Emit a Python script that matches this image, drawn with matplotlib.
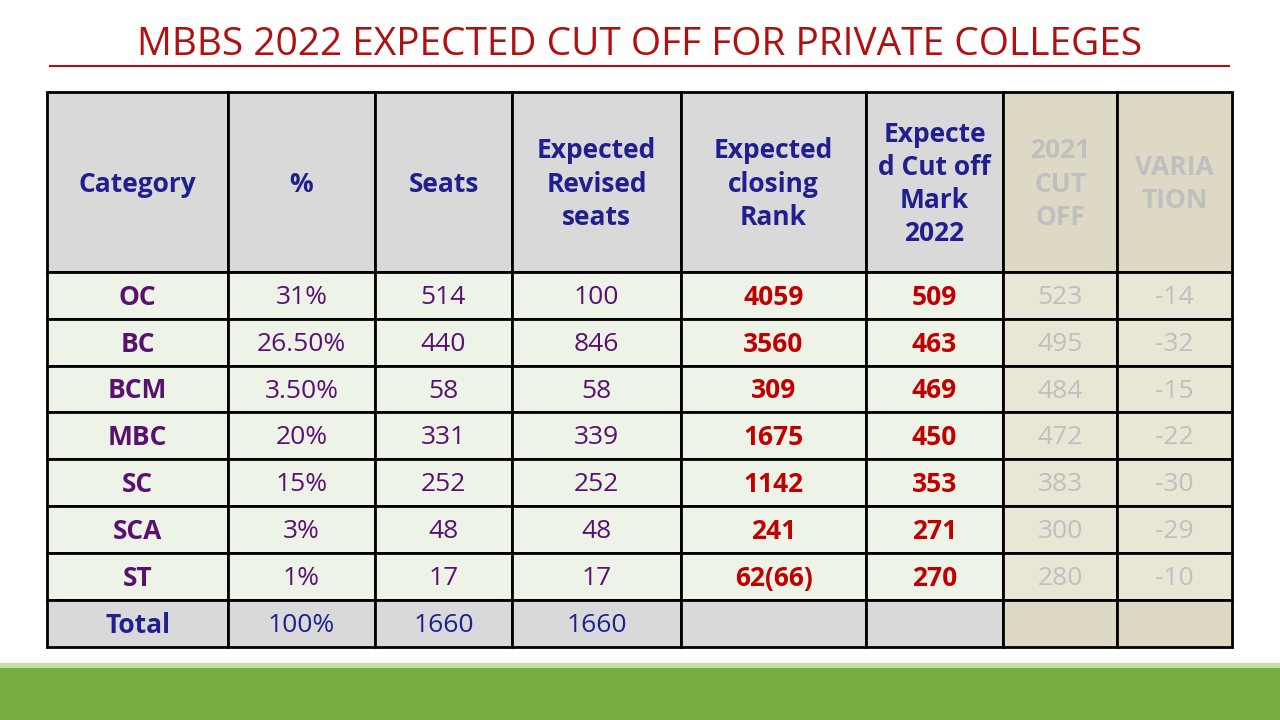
import matplotlib.pyplot as plt
from matplotlib.patches import Rectangle

# Data
headers = ["Category", "%", "Seats", "Expected\nRevised\nseats", "Expected\nclosing\nRank",
           "Expecte\nd Cut off\nMark\n2022", "2021\nCUT\nOFF", "VARIA\nTION"]
categories = ["OC", "BC", "BCM", "MBC", "SC", "SCA", "ST"]
percent = ["31%", "26.50%", "3.50%", "20%", "15%", "3%", "1%"]
seats = [514, 440, 58, 331, 252, 48, 17]
revised = [100, 846, 58, 339, 252, 48, 17]
closing_rank = ["4059", "3560", "309", "1675", "1142", "241", "62(66)"]
cutoff_2022 = [509, 463, 469, 450, 353, 271, 270]
cutoff_2021 = [523, 495, 484, 472, 383, 300, 280]
variation = [-14, -32, -15, -22, -30, -29, -10]
total_row = ["Total", "100%", "1660", "1660", "", "", "", ""]

col_x = [47, 228, 375, 512, 681, 866, 1003, 1117, 1232]
row_y = [92, 272, 319, 366, 412, 459, 506, 553, 600, 647]

NAVY, PURPLE, RED, GREY = "#1f1f8f", "#5a1070", "#c00000", "#bfbfbf"
font = "Open Sans"

fig = plt.figure(figsize=(12.8, 7.2), dpi=100)
ax = fig.add_axes([0, 0, 1, 1])
ax.set_xlim(0, 1280)
ax.set_ylim(720, 0)
ax.axis("off")

ax.text(640, 45, "MBBS 2022 EXPECTED CUT OFF FOR PRIVATE COLLEGES", color="#b01010",
        fontsize=28, ha="center", va="center", family=font)
ax.plot([50, 1229], [66, 66], color="#b01010", lw=1.5)

rows = [headers] + [[c, p, str(s), str(r), cr, str(c2), str(c1), str(v)]
                    for c, p, s, r, cr, c2, c1, v in zip(categories, percent, seats, revised,
                                                          closing_rank, cutoff_2022, cutoff_2021, variation)] + [total_row]

for i, row in enumerate(rows):
    y0, y1 = row_y[i], row_y[i + 1]
    for j, txt in enumerate(row):
        x0, x1 = col_x[j], col_x[j + 1]
        if j >= 6:
            bg = "#ddd9c4" if i == 0 else "#e9e6d6"
            if i == len(rows) - 1:
                bg = "#ddd9c4"
        elif i == 0 or i == len(rows) - 1:
            bg = "#d9d9d9"
        else:
            bg = "#eef3e8"
        ax.add_patch(Rectangle((x0, y0), x1 - x0, y1 - y0, facecolor=bg, edgecolor="black", lw=2))
        if i == 0:
            color, weight = (GREY if j >= 6 else NAVY), "bold"
        elif i == len(rows) - 1:
            color, weight = NAVY, ("bold" if j == 0 else "normal")
        elif j == 0:
            color, weight = PURPLE, "bold"
        elif j in (4, 5):
            color, weight = RED, "bold"
        elif j >= 6:
            color, weight = GREY, "normal"
        else:
            color, weight = PURPLE, "normal"
        ax.text((x0 + x1) / 2, (y0 + y1) / 2 + 2, txt, color=color, fontsize=19, fontweight=weight,
                ha="center", va="center", family=font, linespacing=1.3)

ax.add_patch(Rectangle((0, 663), 1280, 6, facecolor="#c5e0a5", edgecolor="none"))
ax.add_patch(Rectangle((0, 668), 1280, 52, facecolor="#77b041", edgecolor="none"))

fig.savefig("out.png", dpi=100)
